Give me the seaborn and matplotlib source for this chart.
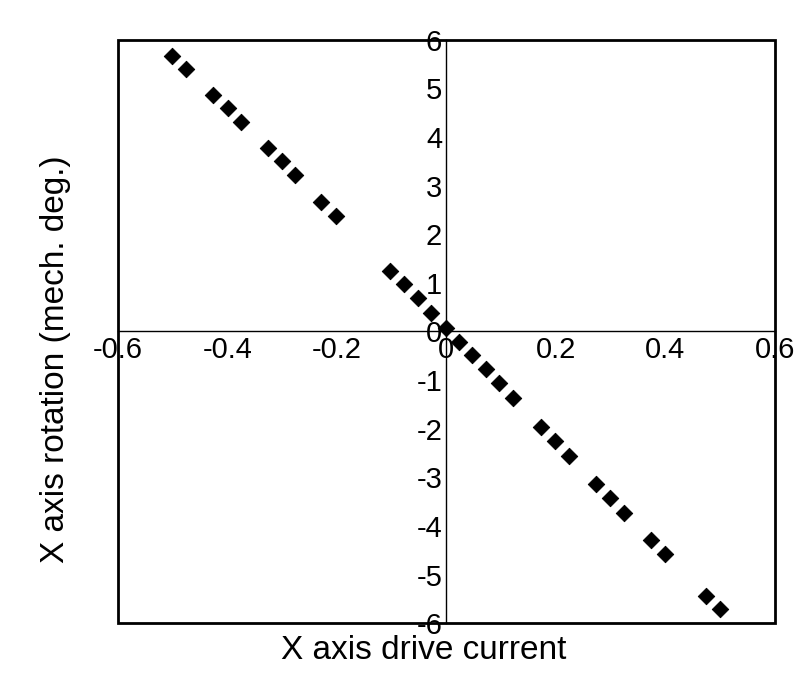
import matplotlib
matplotlib.use("Agg")
import matplotlib.pyplot as plt
import seaborn as sns
import pandas as pd
from matplotlib.patches import Rectangle

current = [-0.501,-0.476,-0.426,-0.399,-0.375,-0.326,-0.300,-0.276,-0.229,-0.201,
           -0.103,-0.078,-0.052,-0.029,0.0,0.023,0.047,0.072,0.097,0.121,
           0.173,0.198,0.224,0.273,0.299,0.324,0.373,0.399,0.474,0.499]
rotation = [5.67,5.40,4.87,4.60,4.31,3.78,3.51,3.22,2.66,2.37,
            1.24,0.97,0.68,0.37,0.08,-0.21,-0.49,-0.78,-1.07,-1.36,
            -1.96,-2.25,-2.56,-3.13,-3.42,-3.73,-4.29,-4.58,-5.44,-5.71]
xticks = [-0.6,-0.4,-0.2,0,0.2,0.4,0.6]
yticks = [-6,-5,-4,-3,-2,-1,0,1,2,3,4,5,6]

sns.set_style("white")
plt.rcParams['font.family'] = ['Liberation Sans', 'DejaVu Sans']
plt.rcParams['axes.unicode_minus'] = False
fig = plt.figure(figsize=(8, 6.97), dpi=100)
ax = fig.add_axes([0.1475, 0.106, 0.821, 0.837])
df = pd.DataFrame({"c": current, "r": rotation})
sns.scatterplot(data=df, x="c", y="r", marker="D", s=70, color="black", edgecolor="black", ax=ax, zorder=3)
ax.set_xlim(-0.6, 0.6)
ax.set_ylim(-6, 6)
ax.spines['left'].set_position('zero')
ax.spines['bottom'].set_position('zero')
ax.spines['top'].set_visible(False)
ax.spines['right'].set_visible(False)
for s in ['left', 'bottom']:
    ax.spines[s].set_color('black'); ax.spines[s].set_linewidth(1)
ax.add_patch(Rectangle((0, 0), 1, 1, transform=ax.transAxes, fill=False, edgecolor='black', lw=2, clip_on=False))
ax.set_xticks(xticks)
ax.set_xticklabels([f"{v:g}" for v in xticks])
ax.set_yticks(yticks)
ax.set_yticklabels([f"{v:g}" for v in yticks])
ax.tick_params(length=0, labelsize=21, pad=3, labelcolor='black')
ax.set_xlabel("")
ax.set_ylabel("")
fig.text(0.53, 0.067, "X axis drive current", ha='center', va='center', fontsize=24, color='black')
fig.text(0.069, 0.485, "X axis rotation (mech. deg.)", ha='center', va='center', rotation=90, fontsize=24, color='black')
fig.savefig("out.png", dpi=100)
